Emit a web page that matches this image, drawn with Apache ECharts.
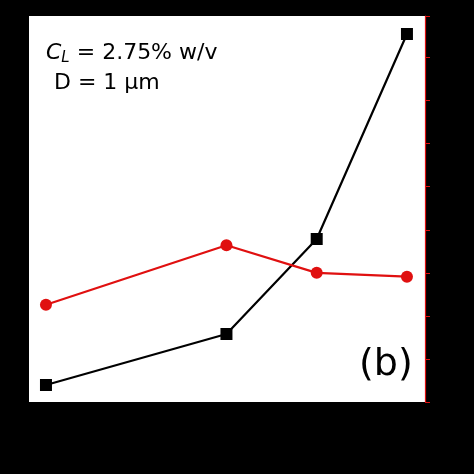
<!DOCTYPE html>
<html>
<head>
<meta charset="UTF-8" />
<script src="https://cdn.jsdelivr.net/npm/echarts@6/dist/echarts.min.js"></script>
<style>
  html, body { margin: 0; background: #000; }
  #chart { width: 474px; height: 474px; }
</style>
</head>
<body>
<div id="chart"></div>
<script>
  const xValues = [1, 3, 4, 5];
  const blackValues = [17, 68, 163, 368];
  const redValues = [0.3159, 0.3435, 0.3307, 0.3289];

  const chart = echarts.init(document.getElementById("chart"));
  const font = "DejaVu Sans";
  chart.setOption({
    backgroundColor: "#000",
    animation: false,
    grid: { left: 29, right: 49, top: 16, bottom: 72, show: true, backgroundColor: "#fff", borderWidth: 0 },
    xAxis: {
      type: "value", min: 0.812, max: 5.2,
      axisLine: { show: false }, axisTick: { show: false }, axisLabel: { show: false }, splitLine: { show: false }
    },
    yAxis: [
      {
        type: "value", min: 0, max: 386,
        axisLine: { show: false }, axisTick: { show: false }, axisLabel: { show: false }, splitLine: { show: false }
      },
      {
        type: "value", position: "right", min: 0.2707, max: 0.45, interval: 0.02,
        axisLine: { show: true, lineStyle: { color: "#e01010", width: 1.2 } },
        axisTick: { show: true, length: 5, lineStyle: { color: "#e01010" } },
        axisLabel: { color: "#e01010", fontFamily: font, fontSize: 15, margin: 6,
          formatter: v => Math.abs(v * 50 - Math.round(v * 50)) < 1e-6 ? v.toFixed(2) : "" },
        splitLine: { show: false }
      }
    ],
    series: [
      {
        type: "line", yAxisIndex: 0, data: xValues.map((x, i) => [x, blackValues[i]]),
        symbol: "rect", symbolSize: 12, itemStyle: { color: "#000" }, lineStyle: { color: "#000", width: 2.2 }
      },
      {
        type: "line", yAxisIndex: 1, data: xValues.map((x, i) => [x, redValues[i]]),
        symbol: "circle", symbolSize: 12, itemStyle: { color: "#e01010" }, lineStyle: { color: "#e01010", width: 2.2 }
      }
    ],
    graphic: [
      { type: "text", left: 46, top: 42, style: {
          text: "{i|C}{s|L} = 2.75% w/v", fill: "#000", font: "22px DejaVu Sans",
          rich: { i: { fontStyle: "italic", fontSize: 22, fontFamily: font }, s: { fontStyle: "italic", fontSize: 15, fontFamily: font, verticalAlign: "bottom", padding: [10, 0, 0, 0] } }
      } },
      { type: "text", left: 54, top: 72, style: { text: "D = 1 μm", fill: "#000", font: "22px DejaVu Sans" } },
      { type: "text", left: 359, top: 346, style: { text: "(b)", fill: "#000", font: "38px DejaVu Sans" } }
    ]
  });
</script>
</body>
</html>
